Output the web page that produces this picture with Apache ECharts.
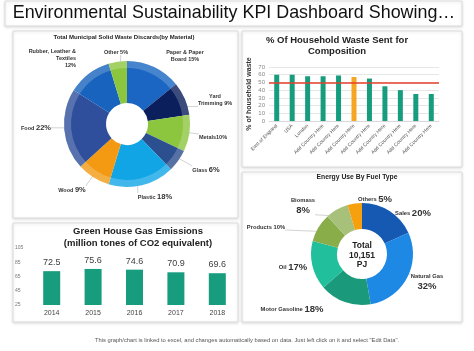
<!DOCTYPE html>
<html><head><meta charset="utf-8">
<script src="https://cdn.jsdelivr.net/npm/echarts@6/dist/echarts.min.js"></script>
<style>html,body{margin:0;padding:0;background:#fff}#c{width:474px;height:351px}</style>
</head><body><div id="c"></div>
<script>
// ---------------- DATA ----------------
const wasteNames = ['Paper & Paper\nBoard', 'Yard\nTrimming', 'Metals', 'Glass', 'Plastic', 'Wood', 'Food', 'Rubber, Leather &\nTextiles', 'Other'];
const wasteValues = [15, 9, 10, 6, 18, 9, 22, 12, 5];

const householdCategories = ['East of England', 'USA', 'London', 'Add Country Here', 'Add Country Here', 'Add Country Here', 'Add Country Here', 'Add Country Here', 'Add Country Here', 'Add Country Here', 'Add Country Here'];
const householdValues = [60, 60, 58, 58, 59, 57, 55, 45, 40, 35, 35];
const householdTarget = 50;

const ghgYears = ['2014', '2015', '2016', '2017', '2018'];
const ghgValues = [72.5, 75.6, 74.6, 70.9, 69.6];

const fuelNames = ['Sales', 'Natural Gas', 'Motor Gasoline', 'Oil', 'Products', 'Biomass', 'Others'];
const fuelValues = [20, 32, 18, 17, 10, 8, 5];
const fuelTotalText = 'Total\n10,151\nPJ';

const titleText = 'Environmental Sustainability KPI Dashboard Showing\u2026';
const footerText = 'This graph/chart is linked to excel, and changes automatically based on data. Just left click on it and select "Edit Data".';

// ---------------- STYLE ----------------
const FONT = '"Liberation Sans", Arial, sans-serif';
const wasteColors = ['#1a66c2', '#0b1f5c', '#8cc63f', '#2c4f8f', '#12a5e6', '#f39a12', '#2f4f9c', '#1763bd', '#8cc63f'];
const wasteSep = [' ', ' ', '', ' ', ' ', ' ', ' ', '\n', ' '];
const wasteBig = [false, false, false, true, true, true, true, false, false];
const wasteLine = [false, true, true, true, true, true, true, false, true];
const wastePlaces = [
  {x: 185, y: 56}, {x: 215, y: 100}, {x: 213, y: 137}, {x: 206, y: 170},
  {x: 155, y: 197}, {x: 72, y: 190}, {x: 36, y: 128}, {x: 76, y: 58, align: 'right'}, {x: 116, y: 52}
];
const fuelColors = ['#1559b2', '#1e88e5', '#1b9a7b', '#21bf9b', '#89ad49', '#a7c17b', '#f5a00c'];
const fuelSep = [' ', '\n', ' ', ' ', ' ', '\n', ' '];
const fuelBig = [true, true, true, true, false, true, true];
const fuelLine = [false, true, false, false, true, true, false];
const fuelPlaces = [
  {x: 413, y: 213}, {x: 427, y: 282}, {x: 292, y: 309}, {x: 293, y: 267},
  {x: 266, y: 227}, {x: 303, y: 206}, {x: 375, y: 199}
];
const highlightIndex = 5;
const teal = '#179c7d';
const orange = '#f5a623';

function makeFormatter(seps, bigs) {
  return function (p) {
    const nameLines = p.name.split('\n').map(l => '{s|' + l + '}').join('\n');
    const sep = seps[p.dataIndex];
    const pct = '{' + (bigs[p.dataIndex] ? 'b' : 's') + '|' + p.value + '%}';
    return nameLines + (sep === '\n' ? '\n' : (sep ? '{s| }' : '')) + pct;
  };
}
function makeLayout(cx, cy, places, frac) {
  return function (p) {
    const pl = places[p.dataIndex];
    const w = p.labelRect.width, h = p.labelRect.height;
    const align = pl.align || 'center';
    const left = align === 'right' ? pl.x - w : (align === 'left' ? pl.x : pl.x - w / 2);
    const top = pl.y - h / 2;
    const res = {x: pl.x, y: pl.y, align: align, verticalAlign: 'middle'};
    if (p.labelLinePoints && p.labelLinePoints.length) {
      const p0 = p.labelLinePoints[0];
      const sx = cx + (p0[0] - cx) * frac, sy = cy + (p0[1] - cy) * frac;
      const ex = Math.max(left, Math.min(left + w, sx));
      const ey = Math.max(top, Math.min(top + h, sy));
      res.labelLinePoints = [[sx, sy], [ex, ey], [ex, ey]];
    }
    return res;
  };
}

const chart = echarts.init(document.getElementById('c'), null, {renderer: 'canvas', width: 474, height: 351});

const panel = (x, y, w, h) => ({
  type: 'rect', z: 0, silent: true,
  shape: {x: x, y: y, width: w, height: h},
  style: {fill: '#fff', stroke: '#dcdcdc', lineWidth: 1, shadowBlur: 3, shadowColor: 'rgba(0,0,0,0.12)', shadowOffsetY: 1}
});
const ttl = (text, x, y, size, weight, extra) => Object.assign({
  text: text, left: x, top: y, textAlign: 'center', padding: 0,
  textStyle: Object.assign({fontSize: size, fontWeight: weight, color: '#222', fontFamily: FONT}, extra || {})
});

const W_CENTER = [127, 124];
const F_CENTER = [362, 254];

const option = {
  animation: false,
  backgroundColor: '#fff',
  textStyle: {fontFamily: FONT},
  graphic: [
    panel(5, 1, 457, 25),
    panel(13, 31, 225, 187),
    panel(242, 31, 220, 136),
    panel(13, 223, 225, 99),
    panel(242, 172, 220, 150)
  ],
  title: [
    ttl(titleText, 234, 4, 17.9, 'normal', {color: '#111'}),
    ttl('Total Municipal Solid Waste Discards(by Material)', 124, 34, 6, 'bold'),
    ttl('% Of Household Waste Sent for\nComposition', 337, 35, 9.5, 'bold', {lineHeight: 11}),
    ttl('Energy Use By Fuel Type', 357, 174, 6.8, 'bold'),
    ttl('Green House Gas Emissions\n(million tones of CO2 equivalent)', 138, 225, 9.5, 'bold', {lineHeight: 12}),
    ttl(fuelTotalText, F_CENTER[0], F_CENTER[1] - 13, 8.5, 'bold', {lineHeight: 9.5}),
    ttl(footerText, 247, 337, 5.8, 'normal', {color: '#555'})
  ],
  grid: [
    {left: 269, right: 35, top: 67, bottom: 230},
    {left: 31, right: 236, top: 248, bottom: 46}
  ],
  xAxis: [
    {gridIndex: 0, type: 'category', data: householdCategories, axisTick: {show: false},
      axisLine: {lineStyle: {color: '#d9d9d9'}},
      axisLabel: {interval: 0, rotate: 45, fontSize: 5, color: '#555', margin: 4}},
    {gridIndex: 1, type: 'category', data: ghgYears, axisTick: {show: false}, axisLine: {show: false},
      axisLabel: {fontSize: 7, color: '#444', margin: 5}}
  ],
  yAxis: [
    {gridIndex: 0, type: 'value', min: 0, max: 70, interval: 10,
      name: '% of household waste', nameLocation: 'middle', nameGap: 16,
      nameTextStyle: {fontSize: 7, fontWeight: 'bold', color: '#333'},
      axisLabel: {fontSize: 6, color: '#888', margin: 4},
      splitLine: {lineStyle: {color: '#e6e6e6'}}, axisLine: {show: false}, axisTick: {show: false}},
    {gridIndex: 1, type: 'value', min: 25, max: 105, interval: 20,
      axisLabel: {fontSize: 5, color: '#777', align: 'left', margin: 16},
      splitLine: {show: false}, axisLine: {show: false}, axisTick: {show: false}}
  ],
  series: [
    {
      type: 'bar', xAxisIndex: 0, yAxisIndex: 0, barWidth: 5,
      data: householdValues.map((v, i) => ({value: v, itemStyle: {color: i === highlightIndex ? orange : teal}})),
      markLine: {symbol: 'none', silent: true, label: {show: false},
        lineStyle: {color: '#e5412d', width: 1.5, type: 'solid'},
        data: [{yAxis: householdTarget}]}
    },
    {
      type: 'bar', xAxisIndex: 1, yAxisIndex: 1, barWidth: 17,
      itemStyle: {color: teal},
      label: {show: true, position: 'top', distance: 4, fontSize: 9, color: '#404040'},
      data: ghgValues
    },
    {
      type: 'pie', center: W_CENTER, radius: [21, 63], startAngle: 90, clockwise: true,
      avoidLabelOverlap: false,
      data: wasteNames.map((n, i) => ({name: n, value: wasteValues[i], itemStyle: {color: wasteColors[i]}, labelLine: {show: wasteLine[i]}})),
      label: {show: true, position: 'outside', formatter: makeFormatter(wasteSep, wasteBig),
        rich: {s: {fontSize: 5.5, fontWeight: 'bold', color: '#333', lineHeight: 7, fontFamily: FONT},
               b: {fontSize: 7.5, fontWeight: 'bold', color: '#333', lineHeight: 9, fontFamily: FONT}}},
      labelLine: {length: 4, length2: 4, lineStyle: {color: '#c8c8c8', width: 0.8}},
      labelLayout: makeLayout(W_CENTER[0], W_CENTER[1], wastePlaces, 0.68),
      emphasis: {disabled: true}
    },
    {
      type: 'pie', center: W_CENTER, radius: [56, 63], startAngle: 90, clockwise: true, silent: true,
      data: wasteValues.map(v => ({value: v})),
      itemStyle: {color: 'rgba(255,255,255,0.2)'},
      label: {show: false}, labelLine: {show: false}, emphasis: {disabled: true}
    },
    {
      type: 'pie', center: F_CENTER, radius: [25, 51], startAngle: 90, clockwise: true,
      avoidLabelOverlap: false,
      data: fuelNames.map((n, i) => ({name: n, value: fuelValues[i], itemStyle: {color: fuelColors[i]}, labelLine: {show: fuelLine[i]}})),
      label: {show: true, position: 'outside', formatter: makeFormatter(fuelSep, fuelBig),
        rich: {s: {fontSize: 5.8, fontWeight: 'bold', color: '#333', lineHeight: 8, fontFamily: FONT},
               b: {fontSize: 9.5, fontWeight: 'bold', color: '#333', lineHeight: 11, fontFamily: FONT}}},
      labelLine: {length: 4, length2: 4, lineStyle: {color: '#c8c8c8', width: 0.8}},
      labelLayout: makeLayout(F_CENTER[0], F_CENTER[1], fuelPlaces, 0.85),
      emphasis: {disabled: true}
    }
  ]
};
chart.setOption(option);
</script>
</body></html>
